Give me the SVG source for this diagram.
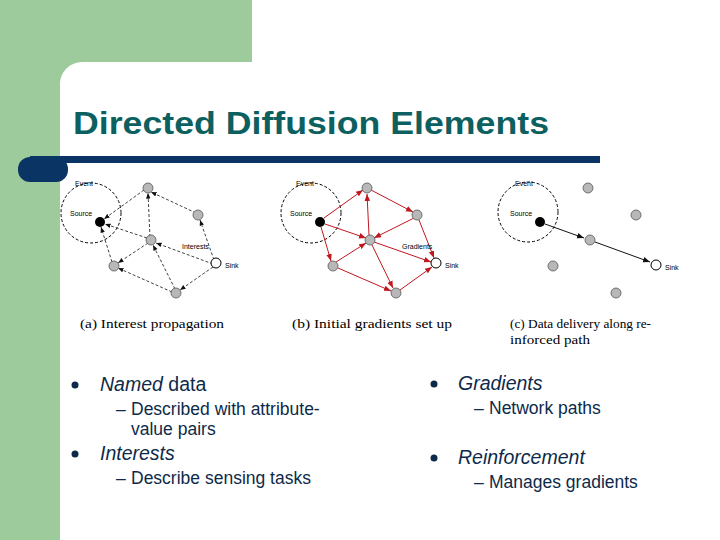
<svg xmlns="http://www.w3.org/2000/svg" width="720" height="540" viewBox="0 0 720 540">
<defs>
<marker id="ab" viewBox="0 0 10 10" refX="10" refY="5" markerWidth="7" markerHeight="7" orient="auto"><path d="M0,1 L10,5 L0,9 z" fill="#111"/></marker>
<marker id="ar" viewBox="0 0 10 10" refX="10" refY="5" markerWidth="7" markerHeight="7" orient="auto"><path d="M0,1 L10,5 L0,9 z" fill="#c0181f"/></marker>
<style>
.nd{fill:#b8b8b8;stroke:#555;stroke-width:0.8}
.src{fill:#000}
.snk{fill:#fff;stroke:#000;stroke-width:1}
.ev{fill:none;stroke:#000;stroke-width:1;stroke-dasharray:3,2}
.da{stroke:#111;stroke-width:0.8;stroke-dasharray:3,2;fill:none;marker-end:url(#ab)}
.ra{stroke:#c0181f;stroke-width:1;fill:none;marker-end:url(#ar)}
.ba{stroke:#111;stroke-width:1;fill:none;marker-end:url(#ab)}
.sm{font-family:"Liberation Sans",sans-serif;font-size:7px;fill:#000}
.cap{font-family:"Liberation Serif",serif;font-size:12px;fill:#000}
.b1{font-family:"Liberation Sans",sans-serif;font-size:19.5px;fill:#0d2a4a}
.b2{font-family:"Liberation Sans",sans-serif;font-size:17.5px;fill:#0d2a4a}
</style>
</defs>
<rect width="720" height="540" fill="#fff"/>
<rect x="0" y="0" width="252" height="90" fill="#9ecb9b"/>
<rect x="0" y="0" width="60" height="540" fill="#9ecb9b"/>
<path d="M60,540 V84 A22,22 0 0 1 82,62 H252 V540 Z" fill="#fff"/>
<text x="73" y="134" font-family="Liberation Sans,sans-serif" font-size="32" font-weight="bold" fill="#0d6060" textLength="476" lengthAdjust="spacingAndGlyphs">Directed Diffusion Elements</text>
<rect x="18" y="157" width="50" height="25" rx="12" fill="#0a3463"/>
<rect x="30" y="156" width="570" height="7" fill="#0a3463"/>

<g id="panel-a">
<circle class="ev" cx="91" cy="213" r="30"/>
<text class="sm" x="75" y="186">Event</text>
<text class="sm" x="70" y="216">Source</text>
<g id="edges-a">
<line class="da" x1="196" y1="213" x2="151" y2="192"/>
<line class="da" x1="214" y1="260" x2="200" y2="220"/>
<line class="da" x1="144" y1="190" x2="104" y2="219"/>
<line class="da" x1="213" y1="264" x2="156" y2="243"/>
<line class="da" x1="150" y1="237" x2="148" y2="193"/>
<line class="da" x1="147" y1="238" x2="105" y2="224"/>
<line class="da" x1="148" y1="243" x2="118" y2="263"/>
<line class="da" x1="112" y1="262" x2="101" y2="227"/>
<line class="da" x1="172" y1="292" x2="118" y2="268"/>
<line class="da" x1="175" y1="289" x2="153" y2="245"/>
<line class="da" x1="213" y1="267" x2="180" y2="290"/>
</g>
<circle class="nd" cx="148" cy="188" r="5"/>
<circle class="nd" cx="198" cy="215" r="5"/>
<circle class="nd" cx="151" cy="240" r="5"/>
<circle class="nd" cx="114" cy="266" r="5"/>
<circle class="nd" cx="176" cy="293" r="5"/>
<circle class="snk" cx="216" cy="263" r="5"/>
<circle class="src" cx="100" cy="222" r="5"/>
<text class="sm" x="182" y="249">Interests</text>
<text class="sm" x="225" y="268">Sink</text>
<text class="cap" x="80" y="328" textLength="144" lengthAdjust="spacingAndGlyphs">(a) Interest propagation</text>
</g>

<g id="panel-b">
<circle class="ev" cx="311" cy="213" r="30"/>
<text class="sm" x="296" y="186">Event</text>
<text class="sm" x="290" y="216">Source</text>
<g id="edges-b">
<line class="ra" x1="324" y1="218" x2="363" y2="190"/>
<line class="ra" x1="325" y1="224" x2="366" y2="238"/>
<line class="ra" x1="321" y1="227" x2="331" y2="261"/>
<line class="ra" x1="371" y1="190" x2="413" y2="212"/>
<line class="ra" x1="369" y1="235" x2="367" y2="194"/>
<line class="ra" x1="414" y1="218" x2="374" y2="238"/>
<line class="ra" x1="419" y1="220" x2="434" y2="258"/>
<line class="ra" x1="374" y1="242" x2="431" y2="262"/>
<line class="ra" x1="372" y1="245" x2="393" y2="288"/>
<line class="ra" x1="336" y1="262" x2="366" y2="243"/>
<line class="ra" x1="338" y1="268" x2="391" y2="291"/>
<line class="ra" x1="400" y1="290" x2="432" y2="267"/>
</g>
<circle class="nd" cx="367" cy="188" r="5"/>
<circle class="nd" cx="417" cy="215" r="5"/>
<circle class="nd" cx="370" cy="240" r="5"/>
<circle class="nd" cx="333" cy="266" r="5"/>
<circle class="nd" cx="396" cy="293" r="5"/>
<circle class="snk" cx="436" cy="263" r="5"/>
<circle class="src" cx="320" cy="222" r="5"/>
<text class="sm" x="402" y="249">Gradients</text>
<text class="sm" x="445" y="268">Sink</text>
<text class="cap" x="292" y="328" textLength="160" lengthAdjust="spacingAndGlyphs">(b) Initial gradients set up</text>
</g>

<g id="panel-c">
<circle class="ev" cx="528" cy="212" r="30"/>
<text class="sm" x="515" y="186">Event</text>
<text class="sm" x="510" y="216">Source</text>
<g id="edges-c">
<line class="ba" x1="545" y1="224" x2="584" y2="238"/>
<line class="ba" x1="595" y1="242" x2="650" y2="262"/>
</g>
<circle class="nd" cx="588" cy="188" r="5"/>
<circle class="nd" cx="636" cy="215" r="5"/>
<circle class="nd" cx="590" cy="240" r="5"/>
<circle class="nd" cx="553" cy="266" r="5"/>
<circle class="nd" cx="616" cy="293" r="5"/>
<circle class="snk" cx="656" cy="265" r="5"/>
<circle class="src" cx="540" cy="222" r="5"/>
<text class="sm" x="665" y="270">Sink</text>
<text class="cap" x="510" y="328" textLength="141" lengthAdjust="spacingAndGlyphs">(c) Data delivery along re-</text>
<text class="cap" x="510" y="344" textLength="80" lengthAdjust="spacingAndGlyphs">inforced path</text>
</g>

<g id="bullets-left">
<circle cx="75" cy="385" r="3.5" fill="#0d2a4a"/>
<text class="b1" x="100" y="391"><tspan font-style="italic">Named</tspan> data</text>
<text class="b2" x="116" y="415">–</text>
<text class="b2" x="131" y="415">Described with attribute-</text>
<text class="b2" x="131" y="435">value pairs</text>
<circle cx="75" cy="454" r="3.5" fill="#0d2a4a"/>
<text class="b1" x="100" y="460" font-style="italic">Interests</text>
<text class="b2" x="116" y="484">–</text>
<text class="b2" x="131" y="484">Describe sensing tasks</text>
</g>
<g id="bullets-right">
<circle cx="434" cy="384" r="3.5" fill="#0d2a4a"/>
<text class="b1" x="458" y="390" font-style="italic">Gradients</text>
<text class="b2" x="474" y="414">–</text>
<text class="b2" x="489" y="414">Network paths</text>
<circle cx="434" cy="458" r="3.5" fill="#0d2a4a"/>
<text class="b1" x="458" y="464" font-style="italic">Reinforcement</text>
<text class="b2" x="474" y="488">–</text>
<text class="b2" x="489" y="488">Manages gradients</text>
</g>
</svg>
